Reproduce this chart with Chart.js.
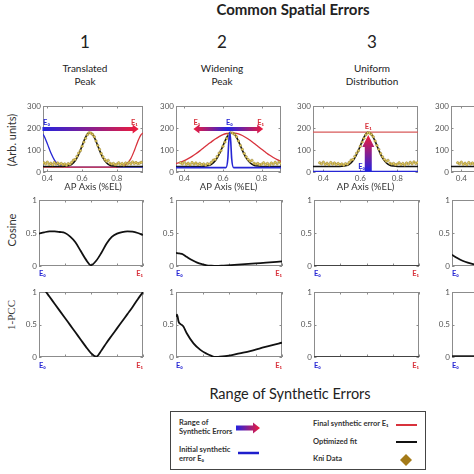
<!DOCTYPE html>
<html>
<head>
<meta charset="utf-8">
<script src="https://cdn.jsdelivr.net/npm/chart.js@4.4.0/dist/chart.umd.min.js"></script>
<style>
  body { margin: 0; width: 474px; height: 474px; overflow: hidden; background: #fff; position: relative; font-family: Lato, "Open Sans", sans-serif; }
  canvas { position: absolute; }
  .t { position: absolute; transform: translate(-50%, -50%); white-space: nowrap; color: #222; text-align: center; line-height: 1; }
  .r { position: absolute; transform: translate(-50%, -50%) rotate(-90deg); white-space: nowrap; color: #333; font-size: 11px; line-height: 1; }
  .l { position: absolute; transform: translateY(-50%); white-space: nowrap; color: #333; font-size: 7.5px; font-weight: bold; line-height: 1; }
</style>
</head>
<body>

<div class="t" style="left:293px;top:9px;font-size:15px;font-weight:bold;">Common Spatial Errors</div>
<div class="t" style="left:85px;top:41px;font-size:17px;">1</div>
<div class="t" style="left:222px;top:41px;font-size:17px;">2</div>
<div class="t" style="left:372px;top:41px;font-size:17px;">3</div>
<div class="t" style="left:85px;top:68px;font-size:10px;">Translated</div>
<div class="t" style="left:85px;top:81px;font-size:10px;">Peak</div>
<div class="t" style="left:222px;top:68px;font-size:10px;">Widening</div>
<div class="t" style="left:222px;top:81px;font-size:10px;">Peak</div>
<div class="t" style="left:372px;top:68px;font-size:10px;">Uniform</div>
<div class="t" style="left:372px;top:81px;font-size:10px;">Distribution</div>

<div class="r" style="left:11px;top:140px;">(Arb. units)</div>
<div class="r" style="left:11px;top:230px;">Cosine</div>
<div class="r" style="left:11px;top:315px;font-family:'Liberation Serif',serif;">1-PCC</div>

<div class="t" style="left:290px;top:394px;font-size:14.5px;">Range of Synthetic Errors</div>
<div style="position:absolute;left:170px;top:411px;width:256px;height:59px;border:1.5px solid #444;box-sizing:border-box;"></div>
<svg style="position:absolute;left:0;top:0;" width="474" height="474">
  <defs>
    <linearGradient id="lg" x1="0" x2="1" y1="0" y2="0">
      <stop offset="0" stop-color="#2323e0"/>
      <stop offset="1" stop-color="#f01c3a"/>
    </linearGradient>
  </defs>
  <path d="M236 425.5 L253 425.5 L253 422.5 L260 428 L253 433.5 L253 430.5 L236 430.5 Z" fill="url(#lg)"/>
  <line x1="238" x2="259" y1="453" y2="453" stroke="#1e1ecc" stroke-width="2.5"/>
  <line x1="396" x2="417" y1="425" y2="425" stroke="#d8323c" stroke-width="2"/>
  <line x1="396" x2="417" y1="442" y2="442" stroke="#111" stroke-width="2"/>
  <path d="M406 454 L412 460 L406 466 L400 460 Z" fill="#a47a18"/>
</svg>
<div class="l" style="left:179px;top:423px;">Range of</div>
<div class="l" style="left:179px;top:431.5px;">Synthetic Errors</div>
<div class="l" style="left:179px;top:449.5px;">Initial synthetic</div>
<div class="l" style="left:179px;top:459px;">error E₀</div>
<div class="l" style="left:313px;top:424px;">Final synthetic error E₁</div>
<div class="l" style="left:313px;top:442px;">Optimized fit</div>
<div class="l" style="left:313px;top:459px;">Kni Data</div>

<script>
/* ========================================
   DATA - AP AXIS PROFILES (TOP ROW)
   ======================================== */

const apTicks = [0.4, 0.6, 0.8];
const apX = [0.34, 0.36, 0.38, 0.40, 0.42, 0.44, 0.46, 0.48, 0.50, 0.52, 0.54, 0.56, 0.58, 0.60, 0.62, 0.64,
             0.66, 0.68, 0.70, 0.72, 0.74, 0.76, 0.78, 0.80, 0.82, 0.84, 0.86, 0.88, 0.90, 0.92, 0.94, 0.96];

// optimized fit (black)
const fitY = [25, 25, 25, 25, 25, 25, 25, 25, 26, 28, 35, 51, 80, 119, 158, 179,
              172, 140, 99, 64, 42, 31, 27, 25, 25, 25, 25, 25, 25, 25, 25, 25];

// Kni data points
const kniX = [0.38, 0.39, 0.40, 0.41, 0.42, 0.43, 0.44, 0.45, 0.46, 0.47, 0.48, 0.49, 0.50, 0.51, 0.52, 0.53,
              0.54, 0.55, 0.56, 0.57, 0.58, 0.59, 0.60, 0.61, 0.62, 0.63, 0.64, 0.65, 0.66, 0.67, 0.68, 0.69,
              0.70, 0.71, 0.72, 0.73, 0.74, 0.75, 0.76, 0.77, 0.78, 0.79, 0.80, 0.81, 0.82, 0.83, 0.84, 0.85,
              0.86, 0.87, 0.88, 0.89, 0.90, 0.91, 0.92, 0.93, 0.94];
const kniY = [42, 37, 45, 35, 40, 33, 43, 36, 41, 34, 39, 33, 37, 31, 38, 35,
              44, 54, 57, 71, 86, 97, 117, 136, 153, 169, 178, 177, 171, 160, 141, 121,
              103, 84, 69, 57, 49, 53, 40, 36, 39, 33, 36, 42, 34, 39, 32, 41,
              36, 44, 37, 46, 39, 43, 38, 40, 44];

// 1 - translated peak
const blue1Y = [165, 180, 165, 128, 87, 55, 35, 27, 23, 22, 22, 22, 22, 22, 22, 22,
                22, 22, 22, 22, 22, 22, 22, 22, 22, 22, 22, 22, 22, 22, 22, 22];
const red1Y = [22, 22, 22, 22, 22, 22, 22, 22, 22, 22, 22, 22, 22, 22, 22, 22,
               22, 22, 22, 22, 22, 22, 22, 22, 24, 28, 39, 61, 97, 139, 171, 180];

// 2 - widening peak
const blue2X = [0.34, 0.60, 0.615, 0.625, 0.63, 0.635, 0.64, 0.645, 0.655, 0.68, 0.96];
const blue2Y = [20, 20, 20, 60, 140, 180, 140, 60, 20, 20, 20];
const red2Y = [34, 39, 45, 52, 61, 71, 83, 96, 110, 124, 137, 150, 161, 170, 175, 178,
               177, 173, 166, 156, 144, 131, 117, 103, 90, 77, 66, 56, 48, 42, 36, 32];

// 3 - uniform distribution
const flatX = [0.34, 0.96];
const red3Y = [181, 181];
const blue3Y = [2, 2];

/* ========================================
   DATA - COSINE AND 1-PCC (E0 -> E1)
   ======================================== */

const errTicks = [0, 0.25, 0.5, 0.75, 1];
const unitTicks = [0, 0.5, 1];
const cosX = [0, 0.05, 0.1, 0.15, 0.2, 0.25, 0.3, 0.35, 0.4, 0.45, 0.5, 0.55, 0.6, 0.65, 0.7, 0.75, 0.8, 0.85, 0.9, 0.95, 1];

const cos1Y = [0.49, 0.51, 0.525, 0.525, 0.515, 0.5, 0.445, 0.36, 0.23, 0.1, 0.012, 0.08, 0.2, 0.34, 0.44, 0.49, 0.515, 0.525, 0.52, 0.5, 0.47];
const cos2X = [0, 0.03, 0.055, 0.1, 0.15, 0.2, 0.25, 0.29, 0.33, 0.38, 0.45, 0.55, 0.65, 0.75, 0.85, 1];
const cos2Y = [0.2, 0.19, 0.185, 0.14, 0.09, 0.05, 0.025, 0.01, 0.004, 0.0, 0.006, 0.016, 0.028, 0.04, 0.051, 0.07];
const cos3X = [0, 1];
const cos3Y = [0, 0];
const cos4X = [0, 0.05, 0.1, 0.15, 0.2, 0.3, 0.4, 0.6, 0.8, 1];
const cos4Y = [0.17, 0.12, 0.08, 0.05, 0.03, 0.012, 0.006, 0.004, 0.004, 0.004];

const pcc1Y = [1.14, 1.04, 0.93, 0.82, 0.71, 0.6, 0.49, 0.38, 0.27, 0.16, 0.06, 0.005, 0.1, 0.22, 0.33, 0.44, 0.55, 0.66, 0.77, 0.89, 1.0];
const pcc2X = [0, 0.01, 0.025, 0.04, 0.07, 0.1, 0.165, 0.23, 0.29, 0.33, 0.37, 0.4, 0.5, 0.6, 0.7, 0.8, 0.9, 1.0];
const pcc2Y = [0.62, 0.65, 0.54, 0.51, 0.47, 0.37, 0.21, 0.11, 0.05, 0.02, 0.0, 0.003, 0.02, 0.055, 0.09, 0.135, 0.18, 0.22];
const pcc3Y = [0, 0];
const pcc4Y = [0.012, 0.012];

/* ========================================
   STYLES AND HELPERS
   ======================================== */

const BLUE = '#2626d4';
const RED = '#d8323c';
const AXIS_GRAY = '#8c8c8c';
const YW = 22, PT = 8, PR = 6;

Chart.defaults.font.family = 'Lato, "Open Sans", sans-serif';
Chart.defaults.color = '#555';

function pts(xs, ys) {
  return xs.map((x, i) => ({ x: x, y: ys[i] }));
}

function curve(xs, ys, color, width) {
  return { data: pts(xs, ys), borderColor: color, borderWidth: width || 1.3, pointRadius: 0, fill: false };
}

function kniSet() {
  return {
    data: pts(kniX, kniY), showLine: false, pointRadius: 1.2, pointStyle: 'circle',
    pointBackgroundColor: '#e8d060', pointBorderColor: '#8a7426', pointBorderWidth: 0.5
  };
}

/**
 * Box around the plot area with inward tick marks (MATLAB style)
 */
const frame = {
  id: 'frame',
  beforeDatasetsDraw(chart) {
    const { ctx, chartArea: a, scales: { x, y } } = chart;
    ctx.save();
    ctx.strokeStyle = AXIS_GRAY;
    ctx.lineWidth = 1;
    ctx.strokeRect(a.left + 0.5, a.top + 0.5, a.right - a.left - 1, a.bottom - a.top - 1);
    ctx.beginPath();
    x.ticks.forEach(t => {
      const p = Math.round(x.getPixelForValue(t.value)) + 0.5;
      ctx.moveTo(p, a.bottom); ctx.lineTo(p, a.bottom - 2.5);
      ctx.moveTo(p, a.top); ctx.lineTo(p, a.top + 2.5);
    });
    y.ticks.forEach(t => {
      const p = Math.round(y.getPixelForValue(t.value)) + 0.5;
      ctx.moveTo(a.left, p); ctx.lineTo(a.left + 2.5, p);
      ctx.moveTo(a.right, p); ctx.lineTo(a.right - 2.5, p);
    });
    ctx.stroke();
    ctx.restore();
  }
};

/**
 * Gradient arrow for the range of synthetic errors, plus E0/E1 labels
 */
function arrowPlugin(spec) {
  return {
    id: 'errArrow',
    afterDatasetsDraw(chart) {
      if (!spec) return;
      const { ctx, scales: { x, y } } = chart;
      ctx.save();
      if (spec.kind === 'up') {
        const px = x.getPixelForValue(spec.at);
        const y0 = y.getPixelForValue(spec.from), y1 = y.getPixelForValue(spec.to);
        const th = 7, hl = 12, hw = 6;
        const g = ctx.createLinearGradient(0, y0, 0, y1);
        g.addColorStop(0, '#2323e0'); g.addColorStop(1, '#f01c3a');
        ctx.fillStyle = g;
        ctx.beginPath();
        ctx.moveTo(px - th / 2, y0); ctx.lineTo(px - th / 2, y1 + hl); ctx.lineTo(px - hw, y1 + hl);
        ctx.lineTo(px, y1); ctx.lineTo(px + hw, y1 + hl); ctx.lineTo(px + th / 2, y1 + hl);
        ctx.lineTo(px + th / 2, y0); ctx.closePath(); ctx.fill();
      } else {
        const py = y.getPixelForValue(spec.at);
        const x0 = x.getPixelForValue(spec.from), x1 = x.getPixelForValue(spec.to);
        const th = 4, hl = 6, hw = 4.5;
        const g = ctx.createLinearGradient(x0, 0, x1, 0);
        if (spec.kind === 'both') {
          g.addColorStop(0, '#f01c3a'); g.addColorStop(0.5, '#2323e0'); g.addColorStop(1, '#f01c3a');
        } else {
          g.addColorStop(0, '#2323e0'); g.addColorStop(1, '#f01c3a');
        }
        ctx.fillStyle = g;
        const l = spec.kind === 'both' ? x0 + hl : x0;
        ctx.beginPath();
        ctx.moveTo(l, py - th / 2); ctx.lineTo(x1 - hl, py - th / 2); ctx.lineTo(x1 - hl, py - hw);
        ctx.lineTo(x1, py); ctx.lineTo(x1 - hl, py + hw); ctx.lineTo(x1 - hl, py + th / 2);
        ctx.lineTo(l, py + th / 2);
        if (spec.kind === 'both') {
          ctx.lineTo(l, py + hw); ctx.lineTo(x0, py); ctx.lineTo(l, py - hw);
        }
        ctx.closePath(); ctx.fill();
      }
      ctx.font = 'bold 7.5px Lato, sans-serif';
      ctx.textAlign = 'center';
      ctx.textBaseline = 'middle';
      spec.labels.forEach(lb => {
        ctx.fillStyle = lb.c === 0 ? BLUE : RED;
        ctx.fillText(lb.c === 0 ? 'E₀' : 'E₁', x.getPixelForValue(lb.x), y.getPixelForValue(lb.y));
      });
      ctx.restore();
    }
  };
}

/**
 * Creates one panel so that its plot area sits exactly in the given box
 */
function panel(box, axisH, datasets, scales, arrow) {
  const c = document.createElement('canvas');
  c.width = YW + box.w + PR;
  c.height = PT + box.h + axisH;
  c.style.left = (box.left - YW) + 'px';
  c.style.top = (box.top - PT) + 'px';
  document.body.appendChild(c);

  scales.x.afterFit = s => { s.height = axisH; };
  scales.y.afterFit = s => { s.width = YW; };

  new Chart(c, {
    type: 'line',
    data: { datasets: datasets },
    options: {
      responsive: false,
      animation: false,
      parsing: false,
      layout: { padding: { left: 0, top: PT, right: PR, bottom: 0 } },
      plugins: { legend: { display: false }, tooltip: { enabled: false } },
      elements: { line: { cubicInterpolationMode: 'monotone' } },
      scales: scales
    },
    plugins: [frame, arrowPlugin(arrow)]
  });
}

function yScale(max, ticks) {
  return {
    type: 'linear', min: 0, max: max,
    afterBuildTicks: s => { s.ticks = ticks.map(v => ({ value: v })); },
    grid: { display: false, drawTicks: false },
    border: { display: false },
    ticks: { font: { size: 8 }, color: '#555', padding: 2, callback: v => String(v) }
  };
}

function apScales(xMin, xMax) {
  return {
    x: {
      type: 'linear', min: xMin, max: xMax,
      afterBuildTicks: s => { s.ticks = apTicks.map(v => ({ value: v })); },
      grid: { display: false, drawTicks: false },
      border: { display: false },
      ticks: { font: { size: 8 }, color: '#555', padding: 2, callback: v => v.toFixed(1), maxRotation: 0 },
      title: { display: true, text: 'AP Axis (%EL)', font: { size: 9.5 }, color: '#333', padding: 0 }
    },
    y: yScale(300, [0, 100, 200, 300])
  };
}

function errScales(pad) {
  return {
    x: {
      type: 'linear', min: 0, max: 1,
      afterBuildTicks: s => { s.ticks = errTicks.map(v => ({ value: v })); },
      grid: { display: false, drawTicks: false },
      border: { display: false },
      ticks: {
        font: { size: 7.5, weight: 'bold' }, padding: pad, align: 'inner', maxRotation: 0, autoSkip: false,
        color: c => (c.tick && c.tick.value === 0 ? BLUE : RED),
        callback: v => (v === 0 ? 'E₀' : v === 1 ? 'E₁' : '')
      }
    },
    y: yScale(1, unitTicks)
  };
}

/* ========================================
   PANELS
   ======================================== */

// top row - profiles along the AP axis
panel({ left: 43, top: 106, w: 100, h: 66 }, 21,
  [kniSet(), curve(apX, fitY, '#111', 1.6), curve(apX, red1Y, RED), curve(apX, blue1Y, BLUE)],
  apScales(0.375, 0.95),
  { kind: 'right', from: 0.372, to: 0.925, at: 195, labels: [{ c: 0, x: 0.395, y: 224 }, { c: 1, x: 0.9, y: 224 }] });

panel({ left: 176, top: 106, w: 105, h: 66 }, 21,
  [curve(blue2X, blue2Y, BLUE, 1.6), kniSet(), curve(apX, fitY, '#111', 1.6), curve(apX, red2Y, RED)],
  apScales(0.357, 0.90),
  { kind: 'both', from: 0.447, to: 0.808, at: 195, labels: [{ c: 1, x: 0.465, y: 224 }, { c: 0, x: 0.633, y: 224 }, { c: 1, x: 0.795, y: 224 }] });

panel({ left: 313, top: 106, w: 105, h: 66 }, 21,
  [kniSet(), curve(apX, fitY, '#111', 1.6), curve(flatX, red3Y, '#d85a5a'), curve(flatX, blue3Y, BLUE, 1.6)],
  apScales(0.344, 0.912),
  { kind: 'up', at: 0.643, from: 4, to: 168, labels: [{ c: 1, x: 0.643, y: 206 }, { c: 0, x: 0.607, y: 24 }] });

panel({ left: 451, top: 106, w: 105, h: 66 }, 21,
  [kniSet(), curve(apX, fitY, '#111', 1.6)],
  apScales(0.344, 0.912), null);

// middle row - cosine
panel({ left: 39, top: 200, w: 104, h: 66 }, 14, [curve(cosX, cos1Y, '#111', 1.8)], errScales(3), null);
panel({ left: 176, top: 200, w: 106, h: 66 }, 14, [curve(cos2X, cos2Y, '#111', 1.8)], errScales(3), null);
panel({ left: 314, top: 200, w: 105, h: 66 }, 14, [curve(cos3X, cos3Y, '#444', 2)], errScales(3), null);
panel({ left: 452, top: 200, w: 105, h: 66 }, 14, [curve(cos4X, cos4Y, '#111', 1.8)], errScales(3), null);

// bottom row - 1-PCC
panel({ left: 39, top: 292, w: 104, h: 65 }, 14, [curve(cosX, pcc1Y, '#111', 1.8)], errScales(4), null);
panel({ left: 176, top: 292, w: 106, h: 65 }, 14, [curve(pcc2X, pcc2Y, '#111', 1.8)], errScales(4), null);
panel({ left: 314, top: 292, w: 105, h: 65 }, 14, [curve(cos3X, pcc3Y, '#444', 2)], errScales(4), null);
panel({ left: 452, top: 292, w: 105, h: 65 }, 14, [curve(cos3X, pcc4Y, '#222', 2)], errScales(4), null);
</script>
</body>
</html>
